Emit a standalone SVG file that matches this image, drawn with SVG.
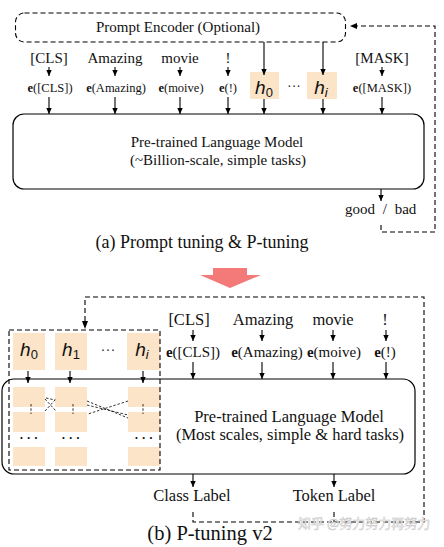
<svg xmlns="http://www.w3.org/2000/svg" width="444" height="547" viewBox="0 0 444 547">
<defs>
<marker id="ah" markerUnits="userSpaceOnUse" markerWidth="6" markerHeight="6" refX="6" refY="3" orient="auto">
<path d="M0,0.3 L6,3 L0,5.7 z" fill="#000"/>
</marker>
<style>
.t{font-family:"Liberation Serif","Times New Roman",serif;fill:#111;text-anchor:middle}
.h{font-family:"Liberation Sans",Arial,sans-serif;font-style:italic;fill:#111;text-anchor:middle}
.dots{font-family:"Liberation Sans",Arial,sans-serif;fill:#333;text-anchor:middle}
.gd{font-family:"Liberation Sans",Arial,sans-serif;fill:#111;text-anchor:middle;font-weight:bold}
.box{fill:#fce4c8}
.ln{stroke:#000;stroke-width:1.1;fill:none}
.ar{stroke:#000;stroke-width:1.1;fill:none;marker-end:url(#ah)}
.da{stroke:#000;stroke-width:1.1;fill:none;stroke-dasharray:5 3}
.dt{stroke:#000;stroke-width:0.8;fill:none;stroke-dasharray:2.5 1.8}
</style>
</defs>
<rect width="444" height="547" fill="#fff"/>

<!-- ===== (a) ===== -->
<g id="lm-a">
<rect x="13" y="114" width="411" height="75" rx="11" fill="#fff" stroke="#000" stroke-width="1.2"/>
<text class="t" x="217" y="147" font-size="15">Pre-trained Language Model</text>
<text class="t" x="218" y="165" font-size="15">(~Billion-scale, simple tasks)</text>
</g>

<g id="prompt-encoder">
<rect x="15.5" y="13" width="330" height="29" rx="9" fill="none" class="da"/>
<text class="t" x="178" y="31.5" font-size="15">Prompt Encoder (Optional)</text>
</g>

<g id="tokens-a" font-size="15">
<text class="t" x="49" y="63">[CLS]</text>
<text class="t" x="115" y="63">Amazing</text>
<text class="t" x="180" y="63">movie</text>
<text class="t" x="228" y="63">!</text>
<text class="t" x="382" y="63">[MASK]</text>
</g>

<g id="embeds-a" font-size="12.5">
<text class="t" x="50" y="92"><tspan font-weight="bold">e</tspan>([CLS])</text>
<text class="t" x="116" y="92"><tspan font-weight="bold">e</tspan>(Amazing)</text>
<text class="t" x="181" y="92"><tspan font-weight="bold">e</tspan>(moive)</text>
<text class="t" x="228" y="92"><tspan font-weight="bold">e</tspan>(!)</text>
<text class="t" x="382" y="92"><tspan font-weight="bold">e</tspan>([MASK])</text>
</g>

<g id="h0-a">
<rect class="box" x="250" y="72" width="29" height="27"/>
<text class="h" x="264" y="94" font-size="19">h<tspan font-size="13" font-style="normal" dy="3">0</tspan></text>
</g>
<g id="dots-a"><text class="dots" x="294" y="90" font-size="14">···</text></g>
<g id="hi-a">
<rect class="box" x="307" y="72" width="30" height="27"/>
<text class="h" x="321" y="94" font-size="19">h<tspan font-size="13" dy="3">i</tspan></text>
</g>

<g id="output-a">
<text class="t" x="345" y="214" font-size="15" style="text-anchor:start" word-spacing="4">good / bad</text>
</g>

<g id="caption-a">
<text class="t" x="202" y="248" font-size="18">(a) Prompt tuning &amp; P-tuning</text>
</g>

<g id="connectors-a">
<path class="ar" d="M49,67 V76"/>
<path class="ar" d="M115,67 V76"/>
<path class="ar" d="M180,67 V76"/>
<path class="ar" d="M228,67 V76"/>
<path class="ar" d="M382,67 V76"/>
<path class="ar" d="M49,97 V114"/>
<path class="ar" d="M115,97 V114"/>
<path class="ar" d="M180,97 V114"/>
<path class="ar" d="M228,97 V114"/>
<path class="ar" d="M264,99 V114"/>
<path class="ar" d="M323,99 V114"/>
<path class="ar" d="M382,97 V114"/>
<path class="ar" d="M264,42 V75"/>
<path class="ar" d="M323,42 V75"/>
<path class="ar" d="M381,189 V201"/>
<path class="da" d="M381,225 V232 H435 V26 H356"/>
<path d="M350,26 L357,23 L357,29 z" fill="#000"/>
</g>

<g id="transition-arrow">
<path d="M213,268 H247 V275 H261 L230,288 L200,275 H213 z" fill="#f47a7a"/>
</g>

<!-- ===== (b) ===== -->
<g id="lm-b">
<rect x="2" y="379" width="413" height="95" rx="12" fill="#fff" stroke="#000" stroke-width="1.2"/>
<text class="t" x="289" y="422" font-size="16.5">Pre-trained Language Model</text>
<text class="t" x="290" y="440" font-size="16.5">(Most scales, simple &amp; hard tasks)</text>
</g>

<g id="prefix-layers">
<rect class="box" x="13" y="387" width="32" height="20"/>
<rect class="box" x="55" y="387" width="32" height="20"/>
<rect class="box" x="128" y="387" width="32" height="20"/>
<rect class="box" x="13" y="412" width="32" height="20"/>
<rect class="box" x="55" y="412" width="32" height="20"/>
<rect class="box" x="128" y="412" width="32" height="20"/>
<rect class="box" x="13" y="447" width="32" height="19"/>
<rect class="box" x="55" y="447" width="32" height="19"/>
<rect class="box" x="128" y="447" width="32" height="19"/>
<text class="gd" x="29" y="442" font-size="12">· · ·</text>
<text class="gd" x="71" y="442" font-size="12">· · ·</text>
<text class="gd" x="144" y="442" font-size="12">· · ·</text>
<path class="dt" d="M31,404 V414 M73,404 V414 M143,404 V414"/>
<path class="dt" d="M45,399 L56,411 M45,411 L56,399 M46,398 L55,400"/>
<path class="dt" d="M87,401 L128,418 M87,405 L128,415 M128,401 L88,414"/>
</g>

<g id="h0-b">
<rect class="box" x="13" y="333" width="32" height="37"/>
<text class="h" x="29" y="356" font-size="19">h<tspan font-size="13" font-style="normal" dy="3">0</tspan></text>
</g>
<g id="h1-b">
<rect class="box" x="55" y="333" width="32" height="37"/>
<text class="h" x="71" y="356" font-size="19">h<tspan font-size="13" font-style="normal" dy="3">1</tspan></text>
</g>
<g id="dots-b"><text class="dots" x="108" y="354" font-size="15">···</text></g>
<g id="hi-b">
<rect class="box" x="127" y="333" width="33" height="37"/>
<text class="h" x="142" y="356" font-size="19">h<tspan font-size="13" dy="3">i</tspan></text>
</g>

<g id="prefix-group">
<rect x="9" y="330" width="151" height="140" class="da"/>
</g>

<g id="tokens-b" font-size="16.5">
<text class="t" x="189" y="325">[CLS]</text>
<text class="t" x="263" y="325">Amazing</text>
<text class="t" x="333" y="325">movie</text>
<text class="t" x="385" y="325">!</text>
</g>

<g id="embeds-b" font-size="15">
<text class="t" x="193" y="357"><tspan font-weight="bold">e</tspan>([CLS])</text>
<text class="t" x="267" y="357"><tspan font-weight="bold">e</tspan>(Amazing)</text>
<text class="t" x="334" y="357"><tspan font-weight="bold">e</tspan>(moive)</text>
<text class="t" x="385" y="357"><tspan font-weight="bold">e</tspan>(!)</text>
</g>

<g id="class-label">
<text class="t" x="192" y="501" font-size="16.5">Class Label</text>
</g>
<g id="token-label">
<text class="t" x="334" y="501" font-size="16.5">Token Label</text>
</g>

<g id="caption-b">
<text class="t" x="210" y="540" font-size="20.5">(b) P-tuning v2</text>
</g>

<g id="connectors-b">
<path class="ar" d="M193,330 V341"/>
<path class="ar" d="M262,330 V341"/>
<path class="ar" d="M333,330 V341"/>
<path class="ar" d="M386,330 V341"/>
<path class="ar" d="M193,362 V379"/>
<path class="ar" d="M262,362 V379"/>
<path class="ar" d="M333,362 V379"/>
<path class="ar" d="M386,362 V379"/>
<path class="ar" d="M28,371 V383"/>
<path class="ar" d="M70,371 V383"/>
<path class="ar" d="M143,371 V383"/>
<path class="ar" d="M193,474 V487"/>
<path class="ar" d="M334,474 V487"/>
<path class="da" d="M193,512 V522 H424 V297 H85 V322"/>
<path class="da" d="M334,512 V522"/>
<path d="M85,329 L82,321 L88,321 z" fill="#000"/>
</g>

<g id="watermark">
<text x="298" y="528" font-size="13" font-family="'Noto Sans CJK SC',sans-serif" fill="#fff" stroke="#c4c4c4" stroke-width="0.5">知乎 @努力努力再努力</text>
</g>
</svg>
